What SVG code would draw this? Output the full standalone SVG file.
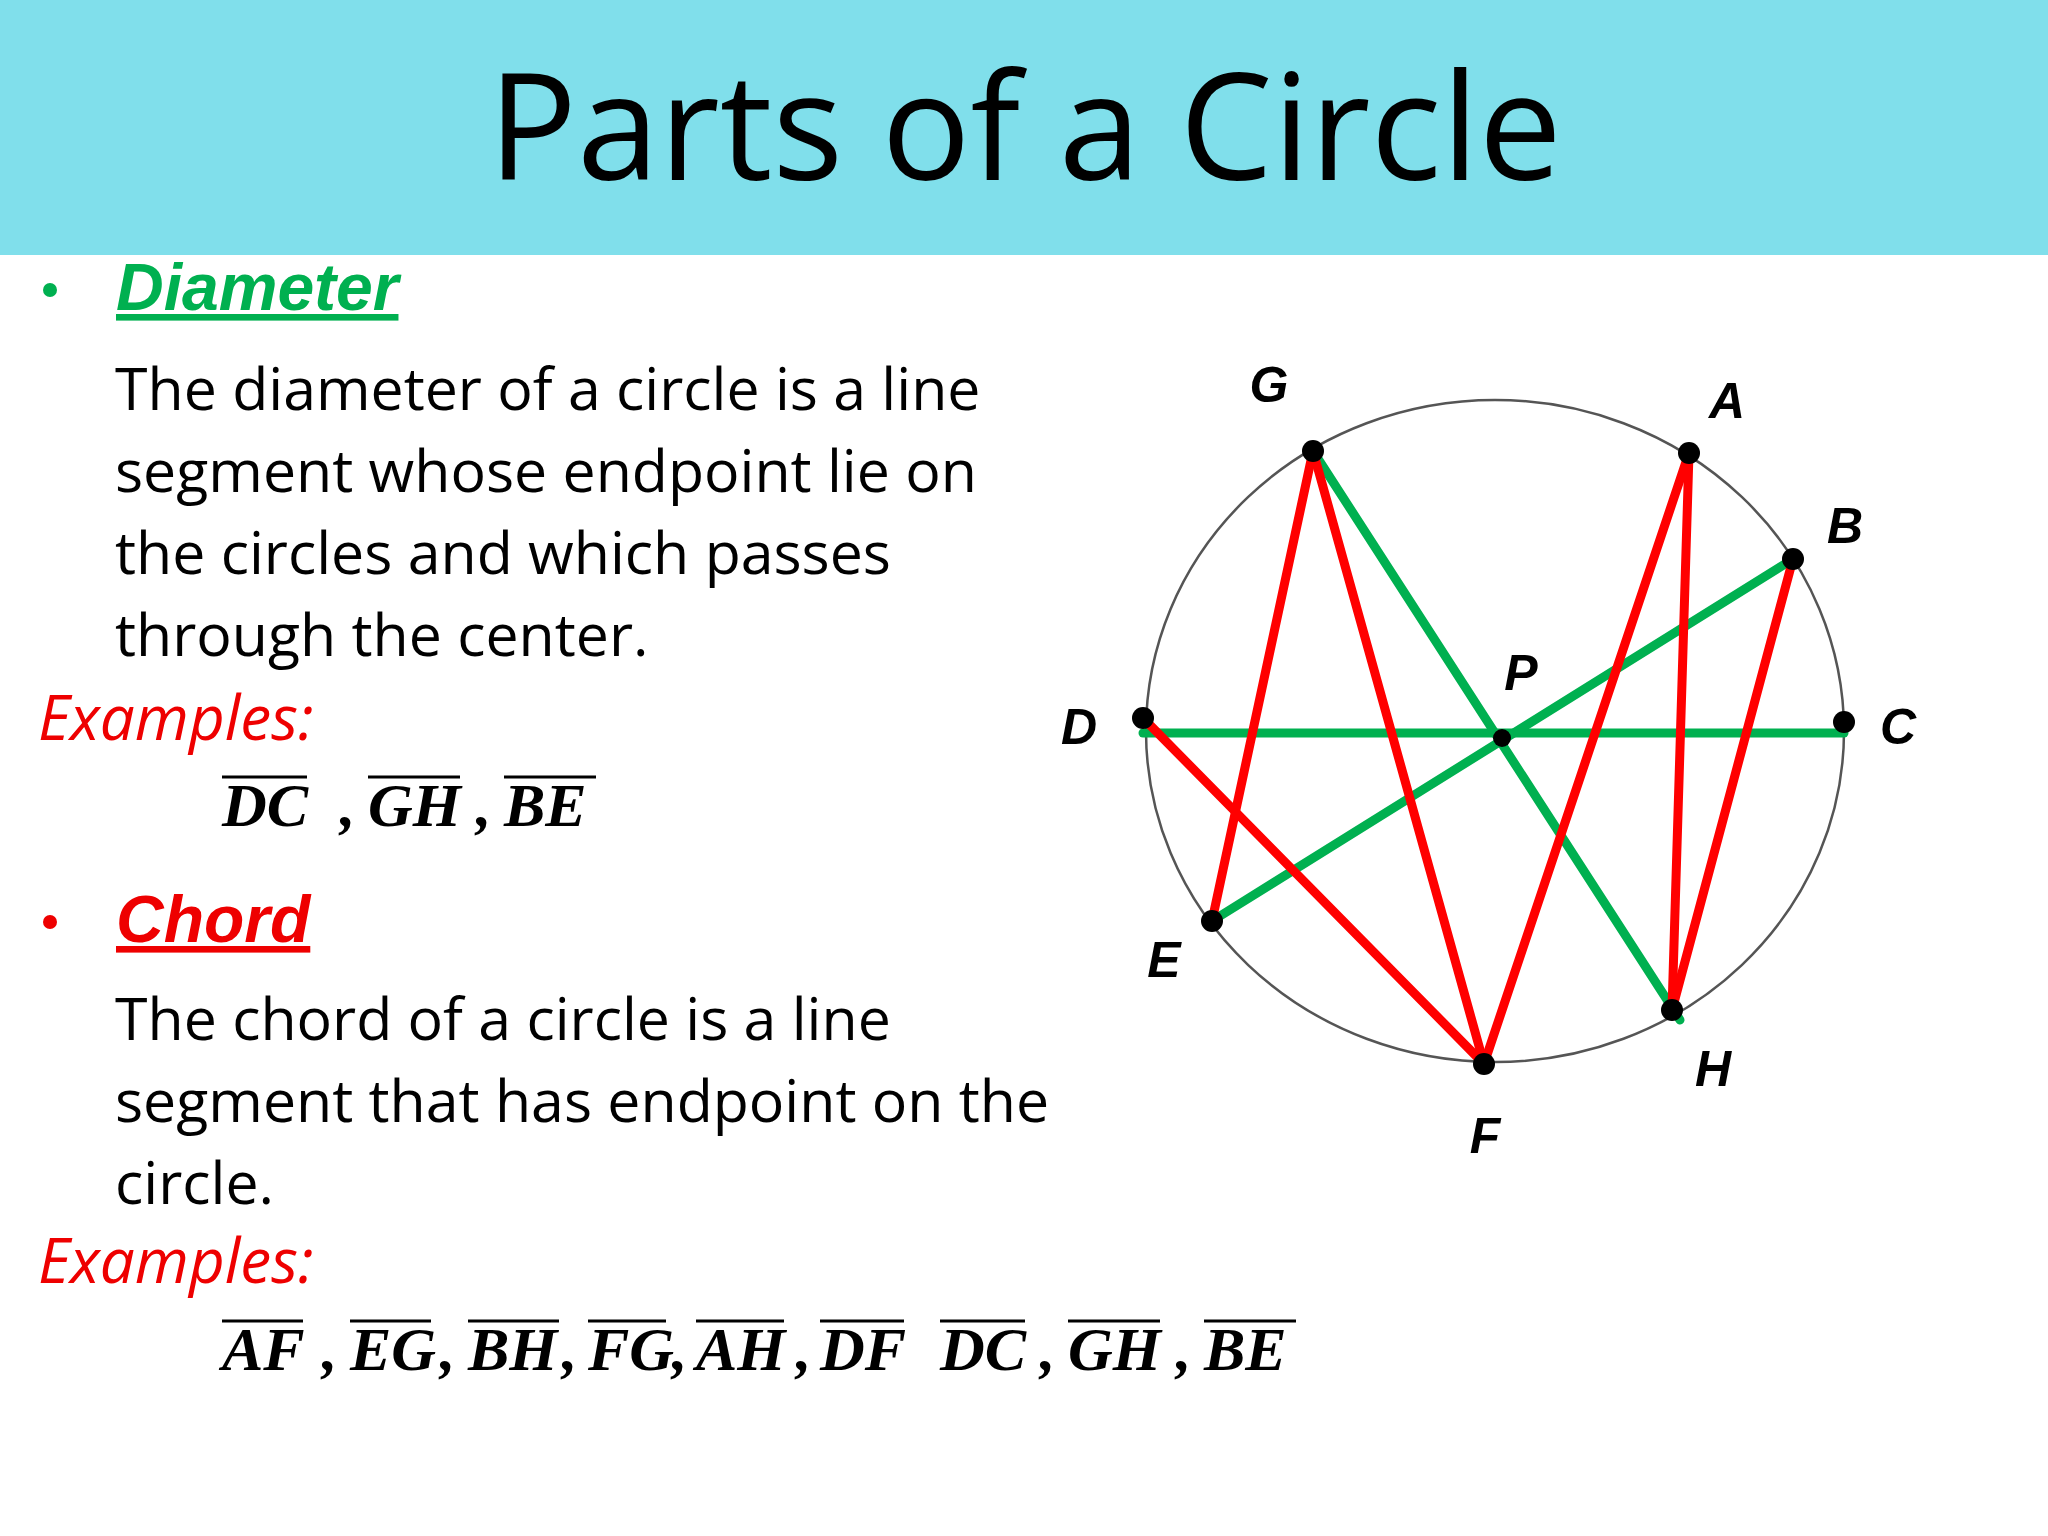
<svg xmlns="http://www.w3.org/2000/svg" width="2048" height="1536" viewBox="0 0 2048 1536">
<style>
.b{font-family:"Open Sans","Liberation Sans",sans-serif;font-size:59px;fill:#000}
.ex{font-family:"Open Sans","Liberation Sans",sans-serif;font-size:62px;fill:#e00;font-style:italic}
.m{font-family:"Liberation Serif",serif;font-size:62px;font-weight:bold;font-style:italic;fill:#000}
.ol{stroke:#000;stroke-width:3}
.lb{font-family:"Liberation Sans",sans-serif;font-size:50px;font-weight:bold;font-style:italic;fill:#000;text-anchor:middle}
.g{stroke:#00b050;stroke-width:9;stroke-linecap:round}
.r{stroke:#ff0000;stroke-width:9;stroke-linecap:round}
</style>
<rect width="2048" height="1536" fill="#fff"/>
<rect width="2048" height="255" fill="#80dfeb"/>
<text x="1025" y="180" font-family="Open Sans,Liberation Sans,sans-serif" font-size="148" text-anchor="middle">Parts of a Circle</text>
<circle cx="50" cy="290" r="7" fill="#00b050"/>
<text x="116" y="310" font-family="Liberation Sans,sans-serif" font-size="66" font-weight="bold" font-style="italic" fill="#00b050" text-decoration="underline">Diameter</text>
<text class="b"><tspan x="115" y="410">The diameter of a circle is a line</tspan><tspan x="115" y="492">segment whose endpoint lie on</tspan><tspan x="115" y="574">the circles and which passes</tspan><tspan x="115" y="656">through the center.</tspan></text>
<text x="38" y="740" class="ex">Examples:</text>
<g class="m"><text x="222" y="826">DC</text><text x="340" y="826">,</text><text x="368" y="826">GH</text><text x="476" y="826">,</text><text x="504" y="826">BE</text></g>
<g class="ol"><line x1="222" y1="777" x2="307" y2="777"/><line x1="368" y1="777" x2="460" y2="777"/><line x1="504" y1="777" x2="596" y2="777"/></g>
<circle cx="50" cy="922" r="7" fill="#e00"/>
<text x="116" y="942" font-family="Liberation Sans,sans-serif" font-size="66" font-weight="bold" font-style="italic" fill="#e00" text-decoration="underline">Chord</text>
<text class="b"><tspan x="115" y="1040">The chord of a circle is a line</tspan><tspan x="115" y="1122">segment that has endpoint on the</tspan><tspan x="115" y="1204">circle.</tspan></text>
<text x="38" y="1283" class="ex">Examples:</text>
<g class="m">
<text x="222" y="1370">AF</text><text x="322" y="1370">,</text>
<text x="350" y="1370">EG</text><text x="440" y="1370">,</text>
<text x="468" y="1370">BH</text><text x="562" y="1370">,</text>
<text x="588" y="1370">FG</text><text x="672" y="1370">,</text>
<text x="696" y="1370">AH</text><text x="796" y="1370">,</text>
<text x="820" y="1370">DF</text>
<text x="940" y="1370">DC</text><text x="1040" y="1370">,</text>
<text x="1068" y="1370">GH</text><text x="1176" y="1370">,</text>
<text x="1204" y="1370">BE</text></g>
<g class="ol"><line x1="222" y1="1321" x2="303" y2="1321"/><line x1="350" y1="1321" x2="431" y2="1321"/><line x1="468" y1="1321" x2="559" y2="1321"/><line x1="588" y1="1321" x2="666" y2="1321"/><line x1="696" y1="1321" x2="784" y2="1321"/><line x1="820" y1="1321" x2="904" y2="1321"/><line x1="940" y1="1321" x2="1025" y2="1321"/><line x1="1068" y1="1321" x2="1160" y2="1321"/><line x1="1204" y1="1321" x2="1296" y2="1321"/></g>
<g id="circle"><ellipse cx="1495" cy="731" rx="349" ry="331" fill="none" stroke="#555" stroke-width="2.5"/></g>
<g id="connectors">
<line class="g" x1="1143" y1="733" x2="1844" y2="733"/>
<line class="g" x1="1313" y1="451" x2="1680" y2="1020"/>
<line class="g" x1="1793" y1="559" x2="1212" y2="921"/>
<line class="r" x1="1313" y1="451" x2="1212" y2="921"/>
<line class="r" x1="1313" y1="451" x2="1484" y2="1064"/>
<line class="r" x1="1689" y1="453" x2="1484" y2="1064"/>
<line class="r" x1="1689" y1="453" x2="1672" y2="1010"/>
<line class="r" x1="1793" y1="559" x2="1672" y2="1010"/>
<line class="r" x1="1143" y1="718" x2="1484" y2="1064"/>
</g>
<g id="points" fill="#000">
<circle cx="1313" cy="451" r="11"/><circle cx="1689" cy="453" r="11"/><circle cx="1793" cy="559" r="11"/><circle cx="1844" cy="722" r="11"/><circle cx="1143" cy="718" r="11"/><circle cx="1212" cy="921" r="11"/><circle cx="1484" cy="1064" r="11"/><circle cx="1672" cy="1010" r="11"/><circle cx="1502" cy="738" r="9"/>
</g>
<g id="labels">
<text class="lb" x="1269" y="402">G</text><text class="lb" x="1727" y="418">A</text><text class="lb" x="1845" y="543">B</text><text class="lb" x="1898" y="744">C</text><text class="lb" x="1079" y="744">D</text><text class="lb" x="1164" y="977">E</text><text class="lb" x="1485" y="1153">F</text><text class="lb" x="1713" y="1086">H</text><text class="lb" x="1521" y="690">P</text>
</g>
</svg>
